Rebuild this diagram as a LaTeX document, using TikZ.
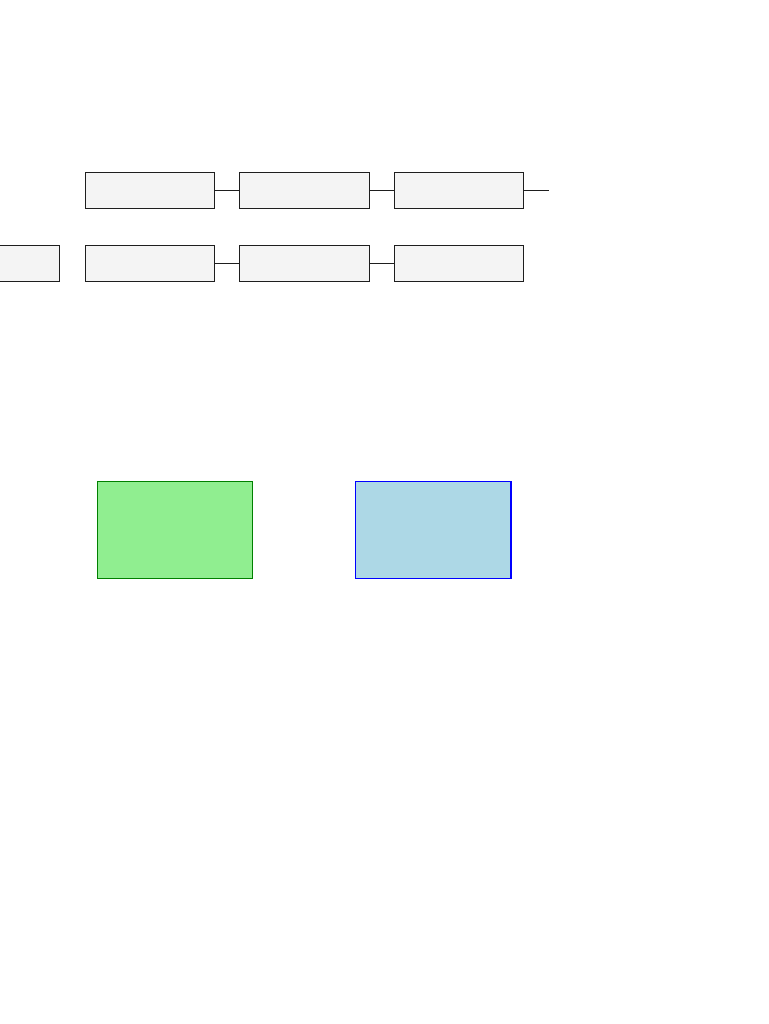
\documentclass[tikz,border=0pt]{standalone}
\usetikzlibrary{positioning}

\tikzset{every picture/.style={line width=1pt}}

\begin{document}
\begin{tikzpicture}[x=1pt,y=1pt,yscale=-1,xscale=1,
  blk/.style={draw={rgb,255:red,30;green,30;blue,30},fill={rgb,255:red,244;green,244;blue,244},minimum width=129pt,minimum height=36.5pt,inner sep=0pt,outer sep=0pt},
  link/.style={draw={rgb,255:red,30;green,30;blue,30},line width=1pt},
  greenbox/.style={draw={rgb,255:red,0;green,128;blue,0},fill={rgb,255:red,144;green,238;blue,144},minimum width=155.5pt,minimum height=97.5pt,inner sep=0pt,outer sep=0pt,line width=1.2pt},
  bluebox/.style={draw={rgb,255:red,0;green,0;blue,255},fill={rgb,255:red,173;green,216;blue,230},minimum width=155.5pt,minimum height=97.5pt,inner sep=0pt,outer sep=0pt,line width=1.2pt}]
%set diagram left start at 0, and has height of 1024
\useasboundingbox (0,0) rectangle (768,1024);

%Shape: Rectangle row one
\node [blk] (topA) at (149.5,190.7) {};
\node [blk,minimum width=130pt] (topB) at (304,190.7) {};
\node [blk] (topC) at (458.7,190.7) {};
\coordinate (topEnd) at (548.7,190.7);
%Shape: Rectangle row two
\node [blk] (botL) at (-5.5,263.5) {};
\node [blk] (botA) at (149.5,263.5) {};
\node [blk,minimum width=130pt] (botB) at (304,263.5) {};
\node [blk] (botC) at (458.7,263.5) {};

%Straight Lines
\draw [link] (topA.east) -- (topB.west) ;
\draw [link] (topB.east) -- (topC.west) ;
\draw [link] (topC.east) -- (topEnd) ;
\draw [link] (botA.east) -- (botB.west) ;
\draw [link] (botB.east) -- (botC.west) ;

%Shape: Rectangle coloured
\node [greenbox] (green) at (175,530) {};
\node [bluebox] (blue) at (433.2,530) {};

\end{tikzpicture}
\end{document}
